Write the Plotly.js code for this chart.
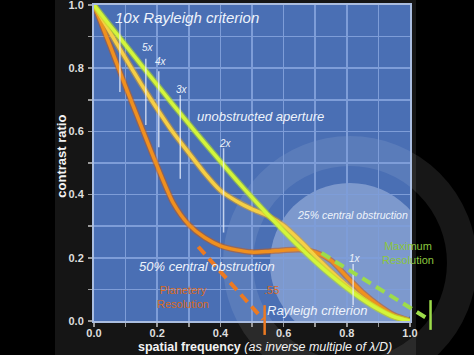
<!DOCTYPE html>
<html>
<head>
<meta charset="utf-8">
<script src="https://cdn.plot.ly/plotly-3.0.1.min.js"></script>
<style>html,body{margin:0;padding:0;background:#000;}#chart{width:474px;height:355px;}</style>
</head>
<body>
<div id="chart"></div>
<script>
// spatial frequency (fraction of cutoff)
const freq = [0,0.05,0.1,0.15,0.2,0.25,0.3,0.35,0.4,0.45,0.5,0.55,0.6,0.65,0.7,0.75,0.8,0.85,0.9,0.95,1.0];
// contrast ratio for each aperture
const unobstructed = [1,0.936,0.873,0.81,0.747,0.685,0.624,0.564,0.505,0.447,0.391,0.337,0.285,0.235,0.188,0.144,0.104,0.068,0.037,0.013,0];
const obstruction25 = [1,0.915,0.831,0.749,0.671,0.597,0.532,0.468,0.413,0.38,0.354,0.333,0.302,0.256,0.206,0.157,0.112,0.073,0.04,0.014,0];
const obstruction50 = [1,0.873,0.742,0.615,0.49,0.375,0.305,0.264,0.238,0.225,0.218,0.22,0.224,0.226,0.217,0.192,0.14,0.09,0.05,0.018,0];

// Rayleigh-criterion multiples (vertical markers)
const rayleighLabels = ["10x","5x","4x","3x","2x","1x"];
const rayleighX = [0.082,0.164,0.205,0.273,0.41,0.82];
const rayleighTop = [0.946,0.83,0.79,0.715,0.547,0.18];
const rayleighBottom = [0.725,0.62,0.55,0.45,0.28,0.05];
const rayleighLabelY = [null,0.864,0.82,0.734,0.563,0.199];

// resolution limits (dashed extrapolations)
const planetaryX = [0.33,0.535];
const planetaryY = [0.235,0.005];
const planetaryTickX = 0.54;
const maximumX = [0.72,1.063];
const maximumY = [0.215,0.003];
const maximumTickX = 1.065;

// axis ticks
const tickVals = [0,0.1,0.2,0.3,0.4,0.5,0.6,0.7,0.8,0.9,1.0];
const tickText = ["0.0","","0.2","","0.4","","0.6","","0.8","","1.0"];

const FONT = "Liberation Sans, Arial, sans-serif";

function curve(y, color, width, opacity){
  return {x:freq, y:y, type:"scatter", mode:"lines", hoverinfo:"skip",
    line:{color:color, width:width, shape:"spline", smoothing:0.7}, opacity:opacity};
}

const data = [
  curve(obstruction50, "#c85a10", 6, 0.55),
  curve(obstruction50, "#f0901e", 3.5, 1),
  curve(obstruction25, "#e0a020", 6, 0.55),
  curve(obstruction25, "#f6cf45", 3.5, 1),
  curve(unobstructed, "#b8e020", 6, 0.55),
  curve(unobstructed, "#d4f53a", 3.5, 1)
];

const shapes = [];
// black side bands
shapes.push({type:"rect", xref:"paper", yref:"paper", x0:-94/316, x1:-39/316, y0:-34/316, y1:1+5/316, fillcolor:"#000", line:{width:0}, layer:"below"});
shapes.push({type:"rect", xref:"paper", yref:"paper", x0:1+6/316, x1:1+64/316, y0:-34/316, y1:1+5/316, fillcolor:"#000", line:{width:0}, layer:"below"});
// decorative ring
shapes.push({type:"circle", xref:"paper", yref:"paper", xsizemode:"pixel", ysizemode:"pixel",
  xanchor:0.81, yanchor:0.1835, x0:-112, x1:112, y0:-112, y1:112,
  line:{color:"rgba(255,255,255,0.09)", width:30}, fillcolor:"rgba(0,0,0,0)", layer:"below"});
// spotlight circle inside plot
shapes.push({type:"circle", xref:"x", yref:"y", x0:0.557, x1:1.063, y0:-0.07, y1:0.437,
  fillcolor:"rgba(225,235,255,0.34)", line:{width:0}, layer:"below"});
// Rayleigh markers
for (let i=0;i<rayleighX.length;i++){
  shapes.push({type:"line", xref:"x", yref:"y", x0:rayleighX[i], x1:rayleighX[i], y0:rayleighBottom[i], y1:rayleighTop[i],
    line:{color:"rgba(235,242,255,0.75)", width:1.5}, layer:"above"});
}
// dashed limits
shapes.push({type:"line", xref:"paper", yref:"paper", x0:planetaryX[0], x1:planetaryX[1], y0:planetaryY[0], y1:planetaryY[1],
  line:{color:"#ec7a22", width:4, dash:"10px,6px"}});
shapes.push({type:"line", xref:"paper", yref:"paper", x0:planetaryTickX, x1:planetaryTickX, y0:0.05, y1:-0.044,
  line:{color:"#ec7a22", width:2.5}});
shapes.push({type:"line", xref:"paper", yref:"paper", x0:maximumX[0], x1:maximumX[1], y0:maximumY[0], y1:maximumY[1],
  line:{color:"#9ddc4a", width:4, dash:"10px,6px"}});
shapes.push({type:"line", xref:"paper", yref:"paper", x0:maximumTickX, x1:maximumTickX, y0:0.066, y1:-0.028,
  line:{color:"#9ddc4a", width:2.5}});

const white = "#eef3fb";
function note(text, x, y, size, opts){
  return Object.assign({text:text, x:x, y:y, xref:"x", yref:"y", showarrow:false,
    font:{family:FONT, size:size, color:white, style:"italic"}, xanchor:"left", yanchor:"middle"}, opts||{});
}
const annotations = [
  note("10x Rayleigh criterion", 0.06, 0.962, 15),
  note("unobstructed aperture", 0.32, 0.646, 13),
  note("25% central obstruction", 0.636, 0.335, 10.5),
  note("50% central obstruction", 0.136, 0.171, 13),
  note("Rayleigh criterion", 0.541, 0.032, 13),
  note("Planetery<br>Resolution", 0.193, 0.076, 11, {font:{family:FONT, size:11, color:"#d8691c"}}),
  note(".55", 0.532, 0.098, 11, {font:{family:FONT, size:11, color:"#d8691c"}}),
  note("Maximum<br>Resolution", 0.905, 0.215, 11, {font:{family:FONT, size:11, color:"#8cc63f"}}),
  note("1.1", 1.07, -0.079, 11, {xanchor:"center", font:{family:FONT, size:11, color:"#8cc63f", weight:"bold"}}),
  {text:"contrast ratio", xref:"paper", yref:"paper", x:-32/316, y:0.52, textangle:-90, showarrow:false,
    font:{family:FONT, size:13, color:"#f2f2f2", weight:"bold"}, xanchor:"center", yanchor:"middle"},
  {text:"<b>spatial frequency</b> <i>(as inverse multiple of λ/D)</i>", xref:"paper", yref:"paper", x:0.54, y:-26/316,
    showarrow:false, font:{family:FONT, size:12.5, color:"#f2f2f2"}, xanchor:"center", yanchor:"middle"}
];
for (let i=1;i<rayleighLabels.length;i++){
  annotations.push(note(rayleighLabels[i], rayleighX[i]+0.006, rayleighLabelY[i], 10, {xanchor:"center"}));
}

const axisCommon = {range:[0,1], tickvals:tickVals, ticktext:tickText, ticks:"outside", ticklen:4,
  tickcolor:"#9a9a9a", tickwidth:1.5, gridcolor:"#7e9dd8", gridwidth:1.5, showline:true, linecolor:"#aabde0",
  linewidth:2, mirror:true, zeroline:false, fixedrange:true, ticklabeloverflow:"allow",
  tickfont:{family:FONT, size:11, color:"#dedede", weight:"bold"}};

const layout = {
  width:474, height:355,
  margin:{l:94, r:64, t:5, b:34, pad:0},
  paper_bgcolor:"#151515", plot_bgcolor:"#4a6fb4",
  showlegend:false,
  xaxis:Object.assign({}, axisCommon, {ticklabelstandoff:-3}),
  yaxis:Object.assign({}, axisCommon, {ticklabelstandoff:2}),
  shapes:shapes, annotations:annotations
};

Plotly.newPlot("chart", data, layout, {displayModeBar:false, staticPlot:true});
</script>
</body>
</html>
